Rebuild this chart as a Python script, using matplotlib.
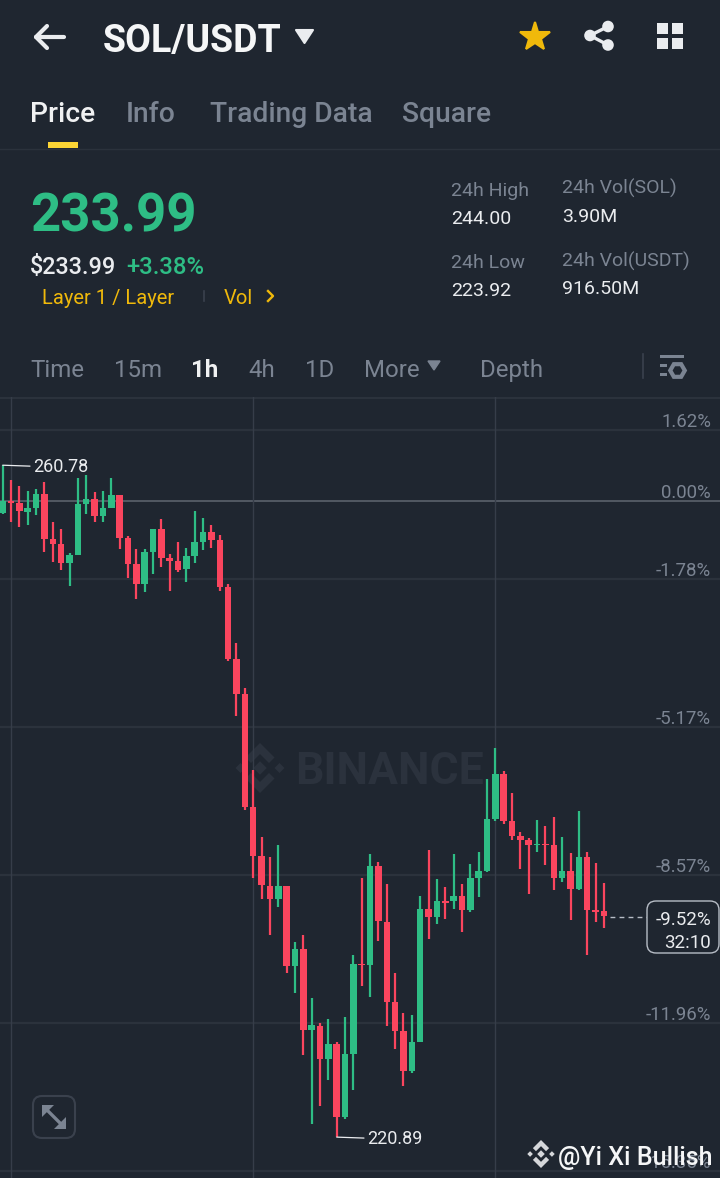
"""SOL/USDT 1h candlestick screen, app style dark layout"""
import matplotlib
matplotlib.use("Agg")
import matplotlib.pyplot as plt
from matplotlib.patches import FancyBboxPatch, Polygon, Circle, Rectangle

plt.rcParams["font.family"] = ["Roboto", "DejaVu Sans"]

# candles, % change against the 0.00% reference line
opens = [-0.28, -0.01, -0.05, -0.25, -0.16, 0.15, -0.86, -0.99, -1.43, -1.23, -0.07, 0.04, -0.34, -0.16, 0.13,
         -0.84, -1.44, -1.90, -1.17, -0.63, -1.31, -1.37, -1.56, -1.26, -0.93, -0.72, -0.90, -1.98, -3.63, -4.42,
         -7.01, -8.12, -8.81, -9.12, -8.81, -10.65, -10.26, -12.11, -12.02, -12.77, -12.44, -14.12, -12.66, -10.60, -10.63,
         -8.35, -9.64, -11.48, -12.14, -13.05, -12.39, -9.35, -9.52, -9.16, -9.16, -9.05, -9.36, -8.63, -8.47, -7.28,
         -6.26, -7.34, -7.68, -7.77, -7.89, -7.85, -7.87, -8.64, -8.48, -8.89, -8.16, -9.36, -9.39]
closes = [-0.01, -0.05, -0.24, -0.16, 0.15, -0.86, -0.99, -1.43, -1.23, -0.08, 0.04, -0.34, -0.16, 0.13, -0.84,
          -1.44, -1.90, -1.17, -0.63, -1.31, -1.37, -1.57, -1.26, -0.93, -0.72, -0.90, -1.98, -3.63, -4.42, -7.00,
          -8.12, -8.80, -9.12, -8.81, -10.65, -10.26, -12.11, -12.01, -12.77, -12.44, -14.12, -12.66, -10.60, -10.63, -8.35,
          -9.63, -11.47, -12.14, -13.05, -12.40, -9.35, -9.52, -9.16, -9.20, -9.05, -9.36, -8.63, -8.47, -7.28, -6.26,
          -7.33, -7.67, -7.76, -7.89, -7.85, -7.89, -8.64, -8.47, -8.89, -8.16, -9.36, -9.41, -9.50]
highs = [0.82, 0.48, 0.34, 0.24, 0.27, 0.44, -0.47, -0.63, -1.18, 0.52, 0.60, 0.21, 0.23, 0.53, 0.13,
         -0.80, -1.11, -1.10, -0.63, -0.41, -1.21, -0.94, -1.07, -0.24, -0.40, -0.55, -0.77, -1.91, -3.26, -4.28,
         -6.16, -7.69, -8.15, -7.88, -8.81, -10.11, -9.95, -11.38, -11.96, -11.87, -12.40, -11.83, -10.40, -8.63, -8.09,
         -8.26, -8.78, -10.80, -11.73, -11.77, -9.05, -8.00, -8.66, -8.85, -8.09, -8.77, -8.32, -8.04, -6.36, -5.65,
         -6.18, -6.69, -7.59, -7.72, -7.31, -7.44, -7.24, -7.69, -8.07, -7.10, -8.05, -8.29, -8.74]
lows = [-0.30, -0.47, -0.59, -0.56, -0.32, -1.17, -1.40, -1.57, -1.95, -1.23, -0.30, -0.49, -0.49, -0.16, -1.09,
        -1.76, -2.25, -2.08, -1.67, -1.51, -2.05, -1.63, -1.85, -1.41, -1.12, -1.08, -2.06, -3.66, -4.92, -7.07,
        -8.64, -9.11, -9.94, -9.29, -10.82, -11.26, -12.69, -14.26, -13.85, -13.27, -14.57, -14.15, -13.48, -11.11, -11.37,
        -10.08, -12.02, -12.55, -13.40, -13.09, -12.40, -10.04, -9.69, -9.57, -9.35, -9.87, -9.41, -9.06, -8.49, -7.33,
        -7.39, -7.76, -8.42, -8.99, -8.05, -8.33, -8.92, -8.72, -9.60, -8.92, -10.40, -9.64, -9.78]

pct_ticks = [1.62, 0.00, -1.78, -5.17, -8.57, -11.96, -15.35]
pct_labels = ["1.62%", "0.00%", "-1.78%", "-5.17%", "-8.57%", "-11.96%", "-15.35%"]
time_ticks = [1, 30, 59]
last_pct = -9.52
hi_idx, hi_label = 0, "260.78"
lo_idx, lo_label = 40, "220.89"

BG = "#1F2630"
GREEN = "#2EBD85"
RED = "#FA455E"
GRAY = "#7B8492"
WHITE = "#EAECEF"
GOLD = "#F0B90B"
GRID = "#2B323C"
VGRID = "#363D49"

W, H = 720, 1178
fig = plt.figure(figsize=(W / 100, H / 100), dpi=100, facecolor=BG)


def overlay(zorder):
    a = fig.add_axes([0, 0, 1, 1], zorder=zorder)
    a.set_xlim(0, W)
    a.set_ylim(H, 0)
    a.axis("off")
    return a


def label(a, x, y, s, size, color=WHITE, weight="normal", ha="left"):
    a.text(x, y, s, fontsize=size, color=color, weight=weight, ha=ha, va="center_baseline")


def logo(a, cx, cy, r, color, alpha=1.0):
    # four diamonds style mark: centre, two sides, chevrons above and below
    shapes = [
        [(0, -.27), (.27, 0), (0, .27), (-.27, 0)],
        [(-.78, -.2), (-.58, 0), (-.78, .2), (-.98, 0)],
        [(.78, -.2), (.98, 0), (.78, .2), (.58, 0)],
        [(0, -1), (.58, -.42), (.36, -.2), (0, -.56), (-.36, -.2), (-.58, -.42)],
        [(0, 1), (.58, .42), (.36, .2), (0, .56), (-.36, .2), (-.58, .42)],
    ]
    for s in shapes:
        a.add_patch(Polygon([(cx + px * r, cy + py * r) for px, py in s], closed=True,
                            facecolor=color, edgecolor="none", alpha=alpha))


ui = overlay(1)

# top bar
ui.plot([36, 64], [37, 37], color=WHITE, lw=3, solid_capstyle="round")
ui.plot([47, 36, 47], [26, 37, 48], color=WHITE, lw=3, solid_capstyle="round", solid_joinstyle="round")
label(ui, 102.5, 38, "SOL/USDT", 27, "#F5F6F7", "bold")
ui.add_patch(Polygon([(296, 30), (313, 30), (304.5, 43)], closed=True, facecolor=WHITE, edgecolor=WHITE, lw=1.5, joinstyle="round"))
ui.plot([535], [36.5], marker="*", ms=22, color=GOLD, mec=GOLD, mew=1.5, ls="none")
ui.plot([608, 590, 608], [26.5, 35.5, 45], color=WHITE, lw=2.4)
for cx, cy in [(608, 26.5), (590, 35.5), (608, 45)]:
    ui.add_patch(Circle((cx, cy), 5.8, facecolor=WHITE, edgecolor="none"))
for x0 in [656.7, 671.7]:
    for y0 in [22.7, 37.7]:
        ui.add_patch(Rectangle((x0, y0), 11.7, 11.7, facecolor=WHITE, edgecolor="none"))

# tabs
label(ui, 30, 112, "Price", 20.3, "#F0F1F2", 500)
label(ui, 126, 112, "Info", 20.3, GRAY, 500)
label(ui, 210, 112, "Trading Data", 20.3, GRAY, 500)
label(ui, 402, 112, "Square", 20.3, GRAY, 500)
ui.add_patch(Rectangle((48, 142), 30, 6, facecolor="#FCD535", edgecolor="none"))
ui.plot([0, W], [148.5, 148.5], color=GRID, lw=1)

# price block
label(ui, 30, 211, "233.99", 38, GREEN, "bold")
label(ui, 30, 265, "$233.99", 16.8, WHITE, 500)
label(ui, 126, 265, "+3.38%", 17.2, GREEN, 500)
label(ui, 42, 296, "Layer 1 / Layer", 14.5, GOLD)
ui.plot([204, 204], [291, 301], color="#3A414D", lw=1.2)
label(ui, 224, 296, "Vol", 14.5, GOLD)
ui.plot([268, 273, 268], [291, 296, 301], color=GOLD, lw=1.7)

for x, y, s, col in [(451, 189, "24h High", GRAY), (451, 217, "244.00", WHITE),
                     (451, 261, "24h Low", GRAY), (451, 289, "223.92", WHITE),
                     (562, 186, "24h Vol(SOL)", GRAY), (562, 215, "3.90M", WHITE),
                     (562, 259, "24h Vol(USDT)", GRAY), (562, 287, "916.50M", WHITE)]:
    label(ui, x, y, s, 14, col)

# interval row
for x, s in [(30, "Time"), (114, "15m"), (248, "4h"), (305, "1D"), (364, "More"), (480, "Depth")]:
    label(ui, x, 368, s, 17.3, GRAY)
label(ui, 191, 368, "1h", 17.3, "#F0F1F2", "bold")
ui.add_patch(Polygon([(428, 361), (440, 361), (434, 370)], closed=True, facecolor=GRAY, edgecolor=GRAY, lw=1))
ui.plot([643, 643], [354, 378], color="#3A414D", lw=1.2)
ui.add_patch(Rectangle((660, 355), 24, 3, facecolor=GRAY, edgecolor="none"))
ui.add_patch(Rectangle((660, 364), 7, 3, facecolor=GRAY, edgecolor="none"))
ui.add_patch(Rectangle((660, 373), 7, 3, facecolor=GRAY, edgecolor="none"))
ui.plot([677], [370], marker="H", ms=10.5, color=GRAY, mfc=BG, mec=GRAY, mew=3, ls="none")
ui.plot([0, W], [397.5, 397.5], color=GRID, lw=1.5)

# faint exchange mark behind the candles
logo(ui, 260, 768, 25, "#2B323D")
label(ui, 295, 768, "BINANCE", 32, "#2B323D", "bold")

# chart, axes limits match the pixel grid of the screen below y=397
px_per_pct = 43.66
px_per_bar = 8.35
chart = fig.add_axes([0, 0, 1, (H - 397) / H], zorder=2)
chart.patch.set_alpha(0)
chart.set_xlim(-2.7 / px_per_bar, (W - 2.7) / px_per_bar)
chart.set_ylim((501 - H) / px_per_pct, (501 - 397) / px_per_pct)
chart.axis("off")

for v in pct_ticks:
    chart.axhline(v, color="#5F6670" if v == 0 else GRID, lw=1.1 if v == 0 else 1.6, zorder=1)
for v in time_ticks:
    chart.axvline(v, color=VGRID, lw=1, zorder=1)
for v, s in zip(pct_ticks, pct_labels):
    chart.annotate(s, xy=(1, v), xycoords=("axes fraction", "data"), xytext=(-6.5, 7.2), textcoords="offset points",
                   ha="right", va="center_baseline", fontsize=13.4, color=GRAY)

xs = range(len(opens))
cols = [GREEN if c >= o else RED for o, c in zip(opens, closes)]
chart.vlines(xs, lows, highs, colors=cols, lw=1.6, zorder=3)
chart.bar(xs, [abs(c - o) for o, c in zip(opens, closes)], bottom=[min(o, c) for o, c in zip(opens, closes)],
          width=0.78, color=cols, linewidth=0, zorder=4)

# high and low leaders
chart.annotate(hi_label, xy=(hi_idx, highs[hi_idx]), xytext=(hi_idx + 3.6, highs[hi_idx]), fontsize=13, color=WHITE,
               va="center_baseline", arrowprops=dict(arrowstyle="-", color=WHITE, lw=0.9, shrinkA=0, shrinkB=0))
chart.annotate(lo_label, xy=(lo_idx, lows[lo_idx]), xytext=(lo_idx + 3.6, lows[lo_idx]), fontsize=13, color=WHITE,
               va="center_baseline", arrowprops=dict(arrowstyle="-", color=WHITE, lw=0.9, shrinkA=0, shrinkB=0))

# last price dash
chart.plot([len(opens) - 1 + 0.7, len(opens) + 4.7], [last_pct, last_pct], color="#B7BDC6", lw=1, ls=(0, (3.5, 3)), zorder=2)

top = overlay(3)
top.add_patch(FancyBboxPatch((647, 901), 72, 52, boxstyle="round,pad=0,rounding_size=9", facecolor=BG, edgecolor="#B7BDC6", lw=1))
label(top, 711, 918, "-9.52%", 13.5, WHITE, ha="right")
label(top, 711, 941, "32:10", 13.5, WHITE, ha="right")

# expand button
top.add_patch(FancyBboxPatch((33, 1096), 42, 42, boxstyle="round,pad=0,rounding_size=9", facecolor="none", edgecolor="#3A414D", lw=1.5))
top.plot([46, 62], [1109, 1125], color=GRAY, lw=2.4)
top.add_patch(Polygon([(42, 1105), (54, 1105), (42, 1117)], closed=True, facecolor=GRAY, edgecolor="none"))
top.add_patch(Polygon([(66, 1129), (54, 1129), (66, 1117)], closed=True, facecolor=GRAY, edgecolor="none"))

# attribution
logo(top, 541, 1154, 14, "#D5D7DA")
label(top, 558, 1155, "@Yi Xi Bullish", 18, "#F5F6F7", 500)

fig.savefig("out.png", dpi=100, facecolor=BG)
